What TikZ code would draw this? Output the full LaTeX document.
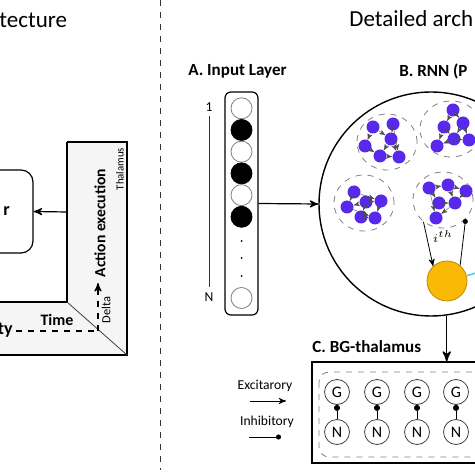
\documentclass[tikz,border=0pt]{standalone}
\usepackage{fontspec}
\setmainfont{Carlito}
\usepackage{tikz}
\usetikzlibrary{arrows}
\usetikzlibrary{arrows.meta}
\usetikzlibrary{calc}
\usetikzlibrary{shapes.geometric}
\definecolor{unitblue}{RGB}{88,40,235}
\definecolor{outorange}{RGB}{250,185,5}
\definecolor{panelgray}{RGB}{245,245,245}
\definecolor{cyanlink}{RGB}{90,205,230}

\begin{document}
\begin{tikzpicture}[
    x=0.5pt, y=-0.5pt,
    arrow line/.style={->, >=stealth', semithick},
    inhib line/.style={-{Circle[length=3pt]}, semithick},
    unit edge/.style={->, >=stealth', very thin, gray!60!black},
    big title/.style={font=\fontsize{11.5}{13}\selectfont, inner sep=0pt},
    panel title/.style={font=\bfseries\fontsize{8.5}{10}\selectfont, inner sep=0pt},
    small label/.style={font=\fontsize{6.8}{8}\selectfont, inner sep=0pt},
    in empty/.style={circle, draw=gray, thin, fill=white, minimum size=10.5pt, inner sep=0pt},
    in full/.style={circle, draw=black, thin, fill=black, minimum size=10.5pt, inner sep=0pt},
    unit/.style={circle, fill=unitblue, minimum size=6.5pt, inner sep=0pt},
    module/.style={ellipse, draw=gray, dashed, thin, minimum width=30pt, minimum height=28pt, inner sep=0pt},
    gn unit/.style={circle, draw=gray!50!black, thin, minimum size=12.5pt, inner sep=0pt, font=\fontsize{8}{9}\selectfont}
    ]
    \useasboundingbox (0,0) rectangle (474,474);

    % titles
    \node[big title, anchor=west] (archtitle) at (-1,20) {tecture};
    \node[big title, anchor=west] (dettitle) at (349,19) {Detailed arch};
    \node[panel title, anchor=west] (atitle) at (188,71) {A. Input Layer};
    \node[panel title, anchor=west] (btitle) at (399,71) {B. RNN (P};
    \node[panel title, anchor=west] (ctitle) at (312,347) {C. BG-thalamus};
    % divider
    \coordinate (divtop) at (160,0);
    \coordinate (divbot) at (160,470);
    \draw[dashed, thin, gray!40!black] (divtop) -- (divbot);

    % thalamus panel
    \fill[panelgray] (67,142) -- (127,142) -- (127,355) -- (-5,355) -- (-5,302) -- (67,302) -- cycle;
    \draw[semithick] (67,142) -- (127,142) -- (127,355) -- (-5,355);
    \draw[semithick] (-5,302) -- (67,302) -- (67,142);
    \draw[thin, gray!50!black] (67,302) -- (127,355);
    \node[draw, semithick, rounded corners=6pt, minimum width=26.5pt, minimum height=41.5pt,
          font=\bfseries\fontsize{9}{10}\selectfont] (ctrl) at (6.5,211.5) {r};
    \coordinate (thal) at (67,212);
    \draw[arrow line] (thal) -- (ctrl.east);
    \node[rotate=90, font=\bfseries\fontsize{7.8}{9}\selectfont] (action) at (100,223) {Action execution};
    \node[rotate=90, font=\fontsize{5.4}{6}\selectfont] (thalamus) at (120,169) {Thalamus};
    \node[rotate=90, font=\fontsize{6.2}{7}\selectfont] (delta) at (106,310) {Delta};
    \node[font=\bfseries\fontsize{8}{9}\selectfont] (time) at (57,320) {Time};
    \node[anchor=base east, inner sep=0pt, font=\bfseries\fontsize{9}{10}\selectfont] (ty) at (13,334) {ty};
    \coordinate (tstart) at (16,331);
    \coordinate (corner) at (98,331);
    \coordinate (acttop) at (98,283);
    \draw[dashed, semithick] (tstart) -- (corner);
    \draw[dashed, semithick, ->, >=stealth'] (corner) -- (acttop);

    % input layer
    \node[draw, semithick, rounded corners=3pt, minimum width=16.5pt, minimum height=111.5pt] (inbox) at (241.5,203.5) {};
    \foreach \i/\s in {1/in empty, 2/in full, 3/in empty, 4/in full, 5/in empty, 6/in full}
        \node[\s] (in\i) at (241.5, {108.3+(\i-1)*21.7}) {};
    \foreach \y in {241,258,276}
        \fill (241.5,\y) circle (1);
    \node[in empty] (inN) at (241.5,298) {};
    \node[small label] (one) at (209,107) {1};
    \node[small label] (nlab) at (209,297) {N};
    \draw[thin, gray!40!black] ($(one.south)+(0,4)$) -- ($(nlab.north)-(0,5)$);

    % RNN
    \node[circle, draw, line width=0.7pt, minimum size=112pt, inner sep=0pt] (rnn) at (431,204) {};
    \draw[arrow line] (inbox.east) -- (rnn.west);
    \node[module] (mod1) at (387,142) {};
    \node[module, minimum width=31pt] (mod2) at (451,129) {};
    \node[module] (mod3) at (364,203) {};
    \node[module] (mod4) at (443,200) {};
    \foreach \n/\x/\y in {a/373/127, b/393/124, c/365/146, d/391/139, e/380/156, f/399/157}
        \node[unit] (m1\n) at (\x,\y) {};
    \foreach \n/\x/\y in {a/453/110, b/444/127, c/463/123, d/454/139, e/437/146, f/469/140}
        \node[unit] (m2\n) at (\x,\y) {};
    \foreach \n/\x/\y in {a/354/192, b/347/207, c/366/202, d/381/201, e/361/217, f/375/218}
        \node[unit] (m3\n) at (\x,\y) {};
    \foreach \n/\x/\y in {a/429/188, b/448/185, c/466/191, d/439/203, e/455/203, f/436/218}
        \node[unit] (m4\n) at (\x,\y) {};
    \foreach \a/\b in {a/c, a/d, b/d, c/e, d/e, d/f, b/f, e/f}
        \draw[unit edge] (m1\a) -- (m1\b);
    \foreach \a/\b in {a/b, a/c, b/d, c/d, b/e, d/e, c/f, d/f}
        \draw[unit edge] (m2\a) -- (m2\b);
    \foreach \a/\b in {a/b, a/d, c/b, c/d, c/e, e/f, d/f, b/f}
        \draw[unit edge] (m3\a) -- (m3\b);
    \foreach \a/\b in {a/b, b/c, a/d, d/e, b/e, c/e, a/f, e/f}
        \draw[unit edge] (m4\a) -- (m4\b);
    % output unit
    \node[circle, fill=outorange, draw=outorange!75!black, thin, minimum size=20pt, inner sep=0pt] (out) at (447,281) {};
    \draw[->, >=stealth', thin] (mod4.-132) -- (out.133);
    \draw[-{Circle[length=2.5pt]}, thin] (out.50) -- (mod4.-40);
    \node[font=\itshape\fontsize{6.5}{7}\selectfont] (ith) at (443,237) {$i^{th}$};
    \coordinate (cyanin) at (486,270);
    \draw[cyanlink, thick] (cyanin) -- (out.15);

    % BG-thalamus
    \node[draw, thick, minimum width=89pt, minimum height=50.5pt] (bg) at (401,412.5) {};
    \draw[arrow line, thick] (rnn.-82) -- (rnn.-82 |- bg.north);
    \draw[dashed, gray, thin, rounded corners=5pt] (319,372) rectangle (490,457);
    \foreach \i/\x in {1/337, 2/377, 3/417, 4/456} {
        \node[gn unit] (g\i) at (\x,392) {G};
        \node[gn unit] (n\i) at (\x,432) {N};
        \draw[inhib line, thin] (n\i) -- (g\i);
    }
    % legend
    \node[small label] (exc) at (265,386) {Excitarory};
    \coordinate (ex1) at (250,401);
    \coordinate (ex2) at (286,401);
    \draw[->, >=stealth', thin] (ex1) -- (ex2);
    \node[small label] (inh) at (267,422) {Inhibitory};
    \coordinate (ih1) at (249,437);
    \coordinate (ih2) at (281,437);
    \draw[-{Circle[length=2.5pt]}, thin] (ih1) -- (ih2);
\end{tikzpicture}
\end{document}
